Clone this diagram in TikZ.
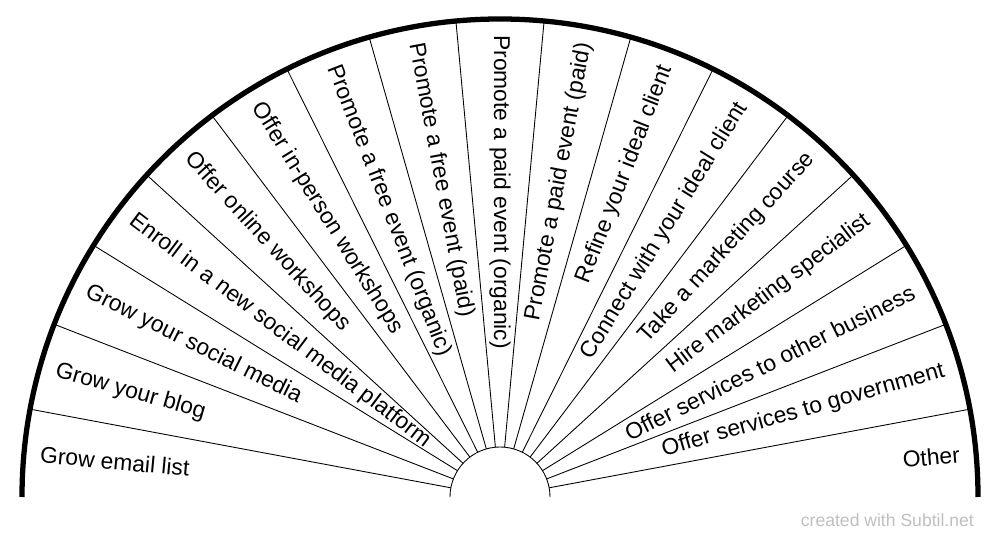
\documentclass[tikz,border=0pt]{standalone}
\usepackage{fontspec}
\setmainfont{Liberation Sans}
\usetikzlibrary{calc}
\tikzset{
  spoke/.style={black, line width=0.5pt},
  rim/.style={black, line width=3pt},
  lbl/.style={font=\fontsize{13}{15}\selectfont, inner sep=0pt}
}
\begin{document}
\begin{tikzpicture}[x=0.02cm,y=0.02cm]
      \useasboundingbox (0,0) rectangle (1000,540);
      \coordinate (c) at (500,43);

      % Sector borders
      \foreach \k in {1,...,16}
        \draw[spoke] ($(c)+({180-\k*180/17}:50)$) -- ($(c)+({180-\k*180/17}:478)$);

      % Outer rim and inner hub
      \draw[rim] ($(c)+(478,0)$) arc (0:180:478);
      \draw[spoke] ($(c)+(50,0)$) arc (0:180:50);

      % Labels, left to right
      \foreach \t [count=\i from 0] in {Grow email list, Grow your blog, Grow your social media,
        Enroll in a new social media platform, Offer online workshops, Offer in-person workshops,
        Promote a free event (organic), Promote a free event (paid), Promote a paid event (organic),
        Promote a paid event (paid), Refine your ideal client, Connect with your ideal client,
        Take a marketing course, Hire marketing specialist, Offer services to other business,
        Offer services to government, Other} {
          \pgfmathsetmacro{\a}{180-(\i+0.5)*180/17}
          \ifnum\i<9
            \node[lbl, anchor=west, rotate=\a+180] (l\i) at ($(c)+(\a:462)$) {\t};
          \else
            \node[lbl, anchor=east, rotate=\a] (l\i) at ($(c)+(\a:462)$) {\t};
          \fi
        }

      % Credit
      \node[anchor=east, text=gray!50, font=\fontsize{10}{12}\selectfont] (credit) at (980,20) {created with Subtil.net};
\end{tikzpicture}
\end{document}
